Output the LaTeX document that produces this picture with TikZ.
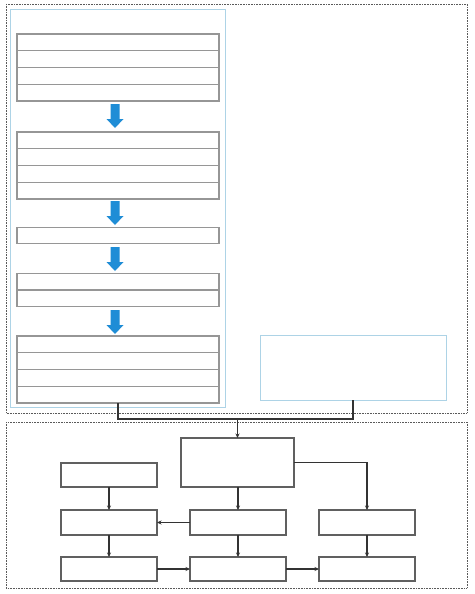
\documentclass[tikz,border=0pt]{standalone}
\usetikzlibrary{arrows.meta}
\definecolor{rowgray}{HTML}{969696}
\definecolor{lblue}{HTML}{ADD3E6}
\definecolor{arrblue}{HTML}{1F8DD6}
\definecolor{dotgray}{HTML}{5A5A5A}
\definecolor{boxgray}{HTML}{606060}
\definecolor{linegray}{HTML}{333333}
\tikzset{
  rowbox/.style={draw=rowgray, line width=1.1pt, minimum width=202pt, minimum height=16.75pt, inner sep=0pt, outer sep=0pt},
  dotbox/.style={draw=dotgray, dash pattern=on 0.8pt off 0.8pt, line width=0.8pt},
  bluebox/.style={draw=lblue, line width=1pt},
  fbox/.style={draw=boxgray, line width=1.2pt, inner sep=0pt, outer sep=0pt},
  conn/.style={draw=linegray, line width=1.1pt},
  arr/.style={conn, -{Stealth[length=4.5pt,width=4pt]}},
  blockarrow/.style={fill=arrblue, draw=none}
}
\newcommand{\blockarr}[2]{% x, ytop
  \fill[blockarrow] (#1-4.5,#2) -- (#1+4.5,#2) -- (#1+4.5,#2+15) -- (#1+8.5,#2+15) -- (#1,#2+24) -- (#1-8.5,#2+15) -- (#1-4.5,#2+15) -- cycle;}
\begin{document}
\begin{tikzpicture}[x=1pt,y=-1pt]
\useasboundingbox (0,0) rectangle (474,594);
\fill[white] (0,0) rectangle (474,594);
% outer dotted boxes
\draw[dotbox] (6,4) rectangle (467,413);
\draw[dotbox] (6,422) rectangle (467,588);
% light blue boxes
\draw[bluebox] (10,10) rectangle (225,407);
\node[bluebox, minimum width=186pt, minimum height=65pt, inner sep=0pt, outer sep=0pt] (rbox) at (353,367.5) {};
% group 1
\foreach \i in {1,...,4} {
  \node[rowbox] (ga\i) at (118, {34+16.75*(\i-0.5)}) {};
}
\blockarr{115}{104}
% group 2
\foreach \i in {1,...,4} {
  \node[rowbox] (gb\i) at (118, {132+16.75*(\i-0.5)}) {};
}
\blockarr{115}{201}
% group 3
\node[rowbox] (gc1) at (118,235.5) {};
\blockarr{115}{247}
% group 4
\foreach \i in {1,2} {
  \node[rowbox] (gd\i) at (118, {273+17*(\i-0.5)}) {};
}
\blockarr{115}{310}
% group 5
\foreach \i in {1,...,4} {
  \node[rowbox] (ge\i) at (118, {336+16.75*(\i-0.5)}) {};
}
% bottom boxes
\node[fbox, minimum width=113pt, minimum height=49pt] (big) at (237.5,462.5) {};
\node[fbox, minimum width=96pt, minimum height=24pt] (lt) at (109,475) {};
\node[fbox, minimum width=96pt, minimum height=25pt] (ml) at (109,522.5) {};
\node[fbox, minimum width=96pt, minimum height=25pt] (mm) at (238,522.5) {};
\node[fbox, minimum width=96pt, minimum height=25pt] (mr) at (367,522.5) {};
\node[fbox, minimum width=96pt, minimum height=24pt] (bl) at (109,569) {};
\node[fbox, minimum width=96pt, minimum height=24pt] (bm) at (238,569) {};
\node[fbox, minimum width=96pt, minimum height=24pt] (br) at (367,569) {};
% merge connector
\coordinate (j) at (237.5,419);
\draw[conn] (ge4.south) |- (j) -| (rbox.south);
\draw[arr] (j) -- (big.north);
% flow arrows
\draw[arr] (lt.south) -- (ml.north);
\draw[arr] (big.south -| mm.north) -- (mm.north);
\draw[arr] (big.east) -| (mr.north);
\draw[arr] (mm.west) -- (ml.east);
\draw[arr] (ml.south) -- (bl.north);
\draw[arr] (mm.south) -- (bm.north);
\draw[arr] (mr.south) -- (br.north);
\draw[arr] (bl.east) -- (bm.west);
\draw[arr] (bm.east) -- (br.west);
\end{tikzpicture}
\end{document}
